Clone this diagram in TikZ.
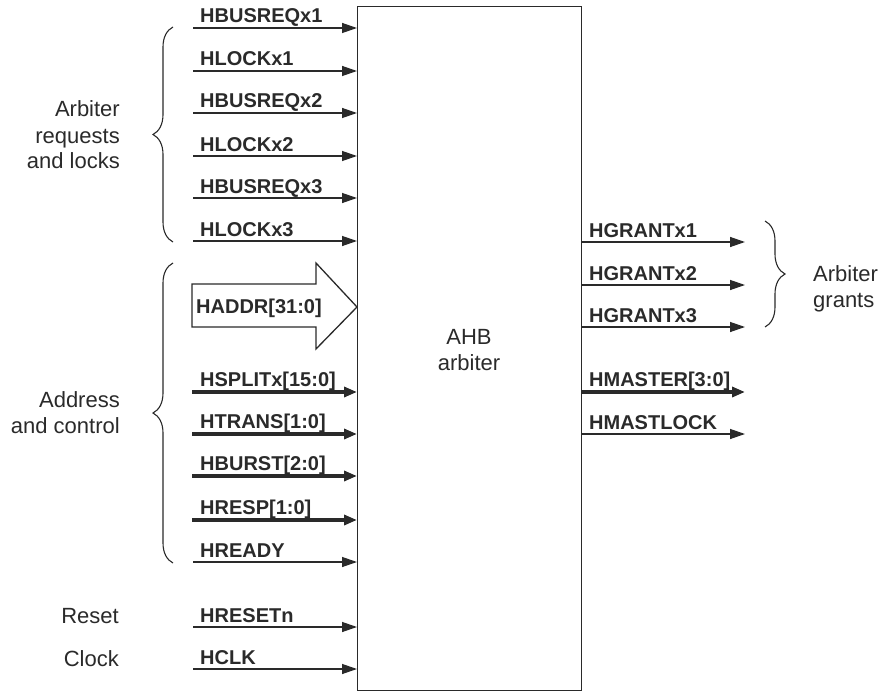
\documentclass[tikz,border=0pt]{standalone}
\usepackage{fontspec}
\setmainfont{Liberation Sans}
\usetikzlibrary{arrows.meta,decorations.pathreplacing}
\definecolor{ink}{HTML}{2A2A2A}
\tikzset{
  sig/.style={draw=ink,line width=1.3pt,-{Triangle[length=15pt,width=10pt]}},
  bus/.style={draw=ink,line width=4pt,-{Triangle[length=13pt,width=10pt]}},
  lbl/.style={font=\bfseries\fontsize{20}{20}\selectfont,text=ink,anchor=base west,inner sep=0pt},
  grpr/.style={font=\fontsize{22}{24}\selectfont,text=ink,anchor=base east,inner sep=0pt},
  grpl/.style={font=\fontsize{22}{24}\selectfont,text=ink,anchor=base west,inner sep=0pt},
  grpc/.style={font=\fontsize{22}{24}\selectfont,text=ink,anchor=base,inner sep=0pt},
  brc/.style={draw=ink,line width=1.1pt,decorate,decoration={brace,amplitude=20pt}},
}
\begin{document}
\begin{tikzpicture}[x=1pt,y=-1pt]
\useasboundingbox (0,0) rectangle (886,698);
\node[draw=ink,line width=1.3pt,minimum width=224pt,minimum height=684pt,inner sep=0pt,anchor=north west] (arb) at (357,6) {};
\node[grpc] (arbtxt1) at (469,344) {AHB};
\node[grpc] (arbtxt2) at (469,370) {arbiter};
% left single inputs
\foreach \n/\t/\y in {a/HBUSREQx1/28, b/HLOCKx1/71, c/HBUSREQx2/113, d/HLOCKx2/156, e/HBUSREQx3/198, f/HLOCKx3/241, g/HREADY/562, h/HRESETn/627, i/HCLK/669}{
  \coordinate (s\n) at (193,\y);
  \coordinate (t\n) at (arb.west |- 0,\y);
  \draw[sig] (s\n) -- (t\n);
  \node[lbl] (l\n) at (200,\y-5) {\t};
}
% left buses
\foreach \n/\t/\y in {p/HSPLITx[15:0]/392, q/HTRANS[1:0]/434, r/HBURST[2:0]/476, s/HRESP[1:0]/520}{
  \coordinate (s\n) at (192,\y);
  \coordinate (t\n) at (arb.west |- 0,\y);
  \draw[bus] (s\n) -- (t\n);
  \node[lbl] (l\n) at (200,\y-6) {\t};
}
% HADDR hollow arrow
\coordinate (haddrtip) at (arb.west |- 0,307);
\draw[draw=ink,line width=1.3pt,fill=white,line join=miter] (192,284) -- (316,284) -- (316,263) -- (haddrtip) -- (316,349) -- (316,327) -- (192,327) -- cycle;
\node[lbl] (lhaddr) at (196,313) {HADDR[31:0]};
% right outputs
\foreach \n/\t/\y in {x/HGRANTx1/242, y/HGRANTx2/285, z/HGRANTx3/327, w/HMASTLOCK/434}{
  \coordinate (o\n) at (arb.east |- 0,\y);
  \coordinate (e\n) at (745,\y);
  \draw[sig] (o\n) -- (e\n);
  \node[lbl] (r\n) at (589,\y-5) {\t};
}
\coordinate (om) at (arb.east |- 0,392);
\coordinate (em) at (745,392);
\draw[bus] (om) -- (em);
\node[lbl] (rm) at (589,386) {HMASTER[3:0]};
% braces
\coordinate (b1a) at (173,242); \coordinate (b1b) at (173,27);
\draw[brc] (b1a) -- (b1b);
\coordinate (b2a) at (173,563); \coordinate (b2b) at (173,263);
\draw[brc] (b2a) -- (b2b);
\coordinate (b3a) at (765,221); \coordinate (b3b) at (765,327);
\draw[brc] (b3a) -- (b3b);
% group labels
\node[grpr] (g1a) at (120,117) {Arbiter};
\node[grpr] (g1b) at (120,143) {requests};
\node[grpr] (g1c) at (120,168) {and locks};
\node[grpr] (g2a) at (120,407) {Address};
\node[grpr] (g2b) at (120,433) {and control};
\node[grpl] (g3a) at (813,281) {Arbiter};
\node[grpl] (g3b) at (813,307) {grants};
\node[grpr] (g4) at (119,623) {Reset};
\node[grpr] (g5) at (119,666) {Clock};
\end{tikzpicture}
\end{document}
